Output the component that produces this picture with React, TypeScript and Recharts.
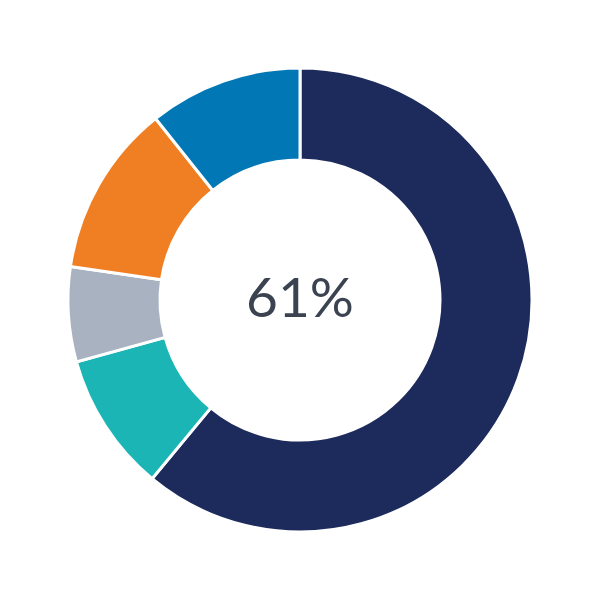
import { Cell, Label, Pie, PieChart } from "recharts";

const categories = ["Navy", "Teal", "Grey", "Orange", "Blue"];
const values = [61, 9.7, 6.6, 12, 10.7];
const colors = ["#1c2b5b", "#1bb5b6", "#a8b2c1", "#f07f24", "#0277b5"];
const centerLabel = "61%";

const data = categories.map((name, i) => ({ name, value: values[i] }));

export default function App() {
  return (
    <div style={{ position: "absolute", left: 0, top: 0, width: 600, height: 600, background: "#fff" }}>
      <PieChart width={600} height={600} margin={{ top: 0, right: 0, bottom: 0, left: 0 }}>
        <Pie
          data={data}
          dataKey="value"
          nameKey="name"
          cx="50%"
          cy="50%"
          innerRadius={140}
          outerRadius={232}
          startAngle={90}
          endAngle={-270}
          stroke="#ffffff"
          strokeWidth={3}
          isAnimationActive={false}
        >
          {data.map((d, i) => (
            <Cell key={d.name} fill={colors[i]} />
          ))}
          <Label
            value={centerLabel}
            position="center"
            fill="#3b4350"
            dy={-3}
            style={{ fontFamily: "Lato", fontSize: 55, fontWeight: 400 }}
          />
        </Pie>
      </PieChart>
    </div>
  );
}
